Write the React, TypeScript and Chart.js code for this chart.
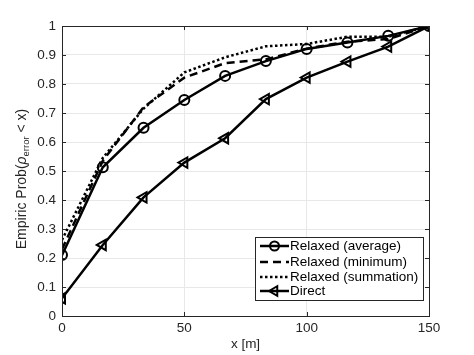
import { useEffect, useRef } from 'react';
import { Chart, registerables } from 'chart.js';

Chart.register(...registerables);

const xPositions = [0, 16.67, 33.33, 50, 66.67, 83.33, 100, 116.67, 133.33, 150];
const relaxedAverage = [0.21, 0.513, 0.649, 0.745, 0.828, 0.879, 0.921, 0.943, 0.966, 1.0];
const relaxedMinimum = [0.23, 0.535, 0.72, 0.822, 0.872, 0.885, 0.922, 0.946, 0.955, 1.0];
const relaxedSummation = [0.262, 0.545, 0.715, 0.84, 0.892, 0.93, 0.938, 0.963, 0.963, 1.0];
const direct = [0.061, 0.245, 0.409, 0.529, 0.613, 0.748, 0.822, 0.877, 0.929, 1.0];

const xTicks = [0, 50, 100, 150];
const yTicks = [0, 0.1, 0.2, 0.3, 0.4, 0.5, 0.6, 0.7, 0.8, 0.9, 1];

const seriesLabels = ['Relaxed (average)', 'Relaxed (minimum)', 'Relaxed (summation)', 'Direct'];

const FONT = '"Liberation Sans", Arial, Helvetica, sans-serif';
const INK = '#262626';
const LW = 2.5;

const toPoints = (ys: number[]) => xPositions.map((x, i) => ({ x, y: ys[i] }));

const decorPlugin = {
  id: 'decor',
  afterDraw(chart: any) {
    const ctx = chart.ctx as CanvasRenderingContext2D;
    const { left, right, top, bottom } = chart.chartArea;
    const xs = chart.scales.x;
    const ys = chart.scales.y;
    ctx.save();
    // box
    ctx.strokeStyle = INK;
    ctx.lineWidth = 1;
    ctx.strokeRect(Math.round(left) + 0.5, Math.round(top) + 0.5, Math.round(right - left), Math.round(bottom - top));
    // inward ticks
    const tl = 4;
    ctx.beginPath();
    for (const v of yTicks) {
      const py = Math.round(ys.getPixelForValue(v)) + 0.5;
      ctx.moveTo(left, py);
      ctx.lineTo(left + tl, py);
      ctx.moveTo(right, py);
      ctx.lineTo(right - tl, py);
    }
    for (const v of xTicks) {
      const px = Math.round(xs.getPixelForValue(v)) + 0.5;
      ctx.moveTo(px, bottom);
      ctx.lineTo(px, bottom - tl);
      ctx.moveTo(px, top);
      ctx.lineTo(px, top + tl);
    }
    ctx.stroke();

    // x title
    ctx.fillStyle = INK;
    ctx.font = `13.5px ${FONT}`;
    ctx.textAlign = 'center';
    ctx.textBaseline = 'middle';
    ctx.fillText('x [m]', (left + right) / 2, 344);

    // y title with subscript
    ctx.save();
    ctx.translate(22, 179);
    ctx.rotate(-Math.PI / 2);
    ctx.textAlign = 'left';
    ctx.textBaseline = 'middle';
    const mainFont = `14px ${FONT}`;
    const rhoFont = `italic 14px ${FONT}`;
    const subFont = `9.5px ${FONT}`;
    const parts: [string, string, number][] = [
      ['Empiric Prob(', mainFont, 0],
      ['\u03C1', rhoFont, 0],
      ['error', subFont, 4.5],
      [' < x)', mainFont, 0],
    ];
    let total = 0;
    for (const [t, f] of parts) {
      ctx.font = f;
      total += ctx.measureText(t).width;
    }
    let cx = -total / 2;
    for (const [t, f, dy] of parts) {
      ctx.font = f;
      ctx.fillText(t, cx, dy);
      cx += ctx.measureText(t).width;
    }
    ctx.restore();

    // legend
    const lx = 255, ly = 237, lw = 168, lh = 63;
    ctx.fillStyle = '#ffffff';
    ctx.fillRect(lx, ly, lw, lh);
    ctx.strokeStyle = INK;
    ctx.lineWidth = 1;
    ctx.strokeRect(lx + 0.5, ly + 0.5, lw, lh);
    const rows = [246, 262, 277, 291];
    const dashes = [[], [8, 5], [2.5, 2.5], []];
    chart.data.datasets.forEach((ds: any, i: number) => {
      const y = rows[i];
      ctx.save();
      ctx.strokeStyle = '#000';
      ctx.lineWidth = LW;
      ctx.setLineDash(dashes[i]);
      ctx.beginPath();
      ctx.moveTo(260, y);
      ctx.lineTo(289, y);
      ctx.stroke();
      ctx.setLineDash([]);
      ctx.lineWidth = 2;
      if (i === 0) {
        ctx.beginPath();
        ctx.arc(274.5, y, 4.5, 0, Math.PI * 2);
        ctx.stroke();
      } else if (i === 3) {
        const r = 5.5;
        ctx.beginPath();
        ctx.moveTo(274.5 - r, y);
        ctx.lineTo(274.5 + r * 0.5, y - r * 0.87);
        ctx.lineTo(274.5 + r * 0.5, y + r * 0.87);
        ctx.closePath();
        ctx.stroke();
      }
      ctx.restore();
      ctx.fillStyle = '#000';
      ctx.font = `13.5px ${FONT}`;
      ctx.textAlign = 'left';
      ctx.textBaseline = 'middle';
      ctx.fillText(ds.label, 290, y);
    });
    ctx.restore();
  },
};

export default function App() {
  const ref = useRef<HTMLCanvasElement | null>(null);
  useEffect(() => {
    document.body.style.margin = '0';
    const canvas = ref.current!;
    const chart = new Chart(canvas, {
      type: 'line',
      data: {
        datasets: [
          {
            label: seriesLabels[0],
            data: toPoints(relaxedAverage),
            borderColor: '#000',
            borderWidth: LW,
            pointStyle: 'circle',
            pointRadius: 5,
            pointBorderWidth: 2,
            pointBorderColor: '#000',
            pointBackgroundColor: 'rgba(0,0,0,0)',
            tension: 0,
          },
          {
            label: seriesLabels[1],
            data: toPoints(relaxedMinimum),
            borderColor: '#000',
            borderWidth: LW,
            borderDash: [8, 5],
            pointRadius: 0,
            tension: 0,
          },
          {
            label: seriesLabels[2],
            data: toPoints(relaxedSummation),
            borderColor: '#000',
            borderWidth: LW,
            borderDash: [2.5, 2.5],
            pointRadius: 0,
            tension: 0,
          },
          {
            label: seriesLabels[3],
            data: toPoints(direct),
            borderColor: '#000',
            borderWidth: LW,
            pointStyle: 'triangle',
            rotation: -90,
            pointRadius: 6,
            pointBorderWidth: 2,
            pointBorderColor: '#000',
            pointBackgroundColor: 'rgba(0,0,0,0)',
            tension: 0,
          },
        ],
      },
      options: {
        animation: false,
        responsive: false,
        devicePixelRatio: 1,
        layout: { padding: { left: 0, top: 26, right: 45, bottom: 0 } },
        plugins: { legend: { display: false }, tooltip: { enabled: false } },
        scales: {
          x: {
            type: 'linear',
            min: 0,
            max: 150,
            afterBuildTicks: (s: any) => {
              s.ticks = xTicks.map((v) => ({ value: v }));
            },
            afterFit: (s: any) => {
              s.height = 39;
            },
            grid: { color: '#e8e8e8', drawTicks: false },
            border: { display: false },
            ticks: {
              padding: 4,
              color: INK,
              font: { family: FONT, size: 13.5 },
              maxRotation: 0,
              callback: (v: any) => String(v),
            },
          },
          y: {
            type: 'linear',
            min: 0,
            max: 1,
            afterBuildTicks: (s: any) => {
              s.ticks = yTicks.map((v) => ({ value: v }));
            },
            afterFit: (s: any) => {
              s.width = 62;
            },
            grid: { color: '#e8e8e8', drawTicks: false },
            border: { display: false },
            ticks: {
              padding: 6,
              color: INK,
              font: { family: FONT, size: 13.5 },
              callback: (v: any) => String(Math.round(Number(v) * 10) / 10),
            },
          },
        },
      },
      plugins: [decorPlugin],
    });
    return () => chart.destroy();
  }, []);
  return (
    <div style={{ width: 474, height: 355, background: '#fff' }}>
      <canvas ref={ref} width={474} height={355} style={{ display: 'block', width: 474, height: 355 }} />
    </div>
  );
}
